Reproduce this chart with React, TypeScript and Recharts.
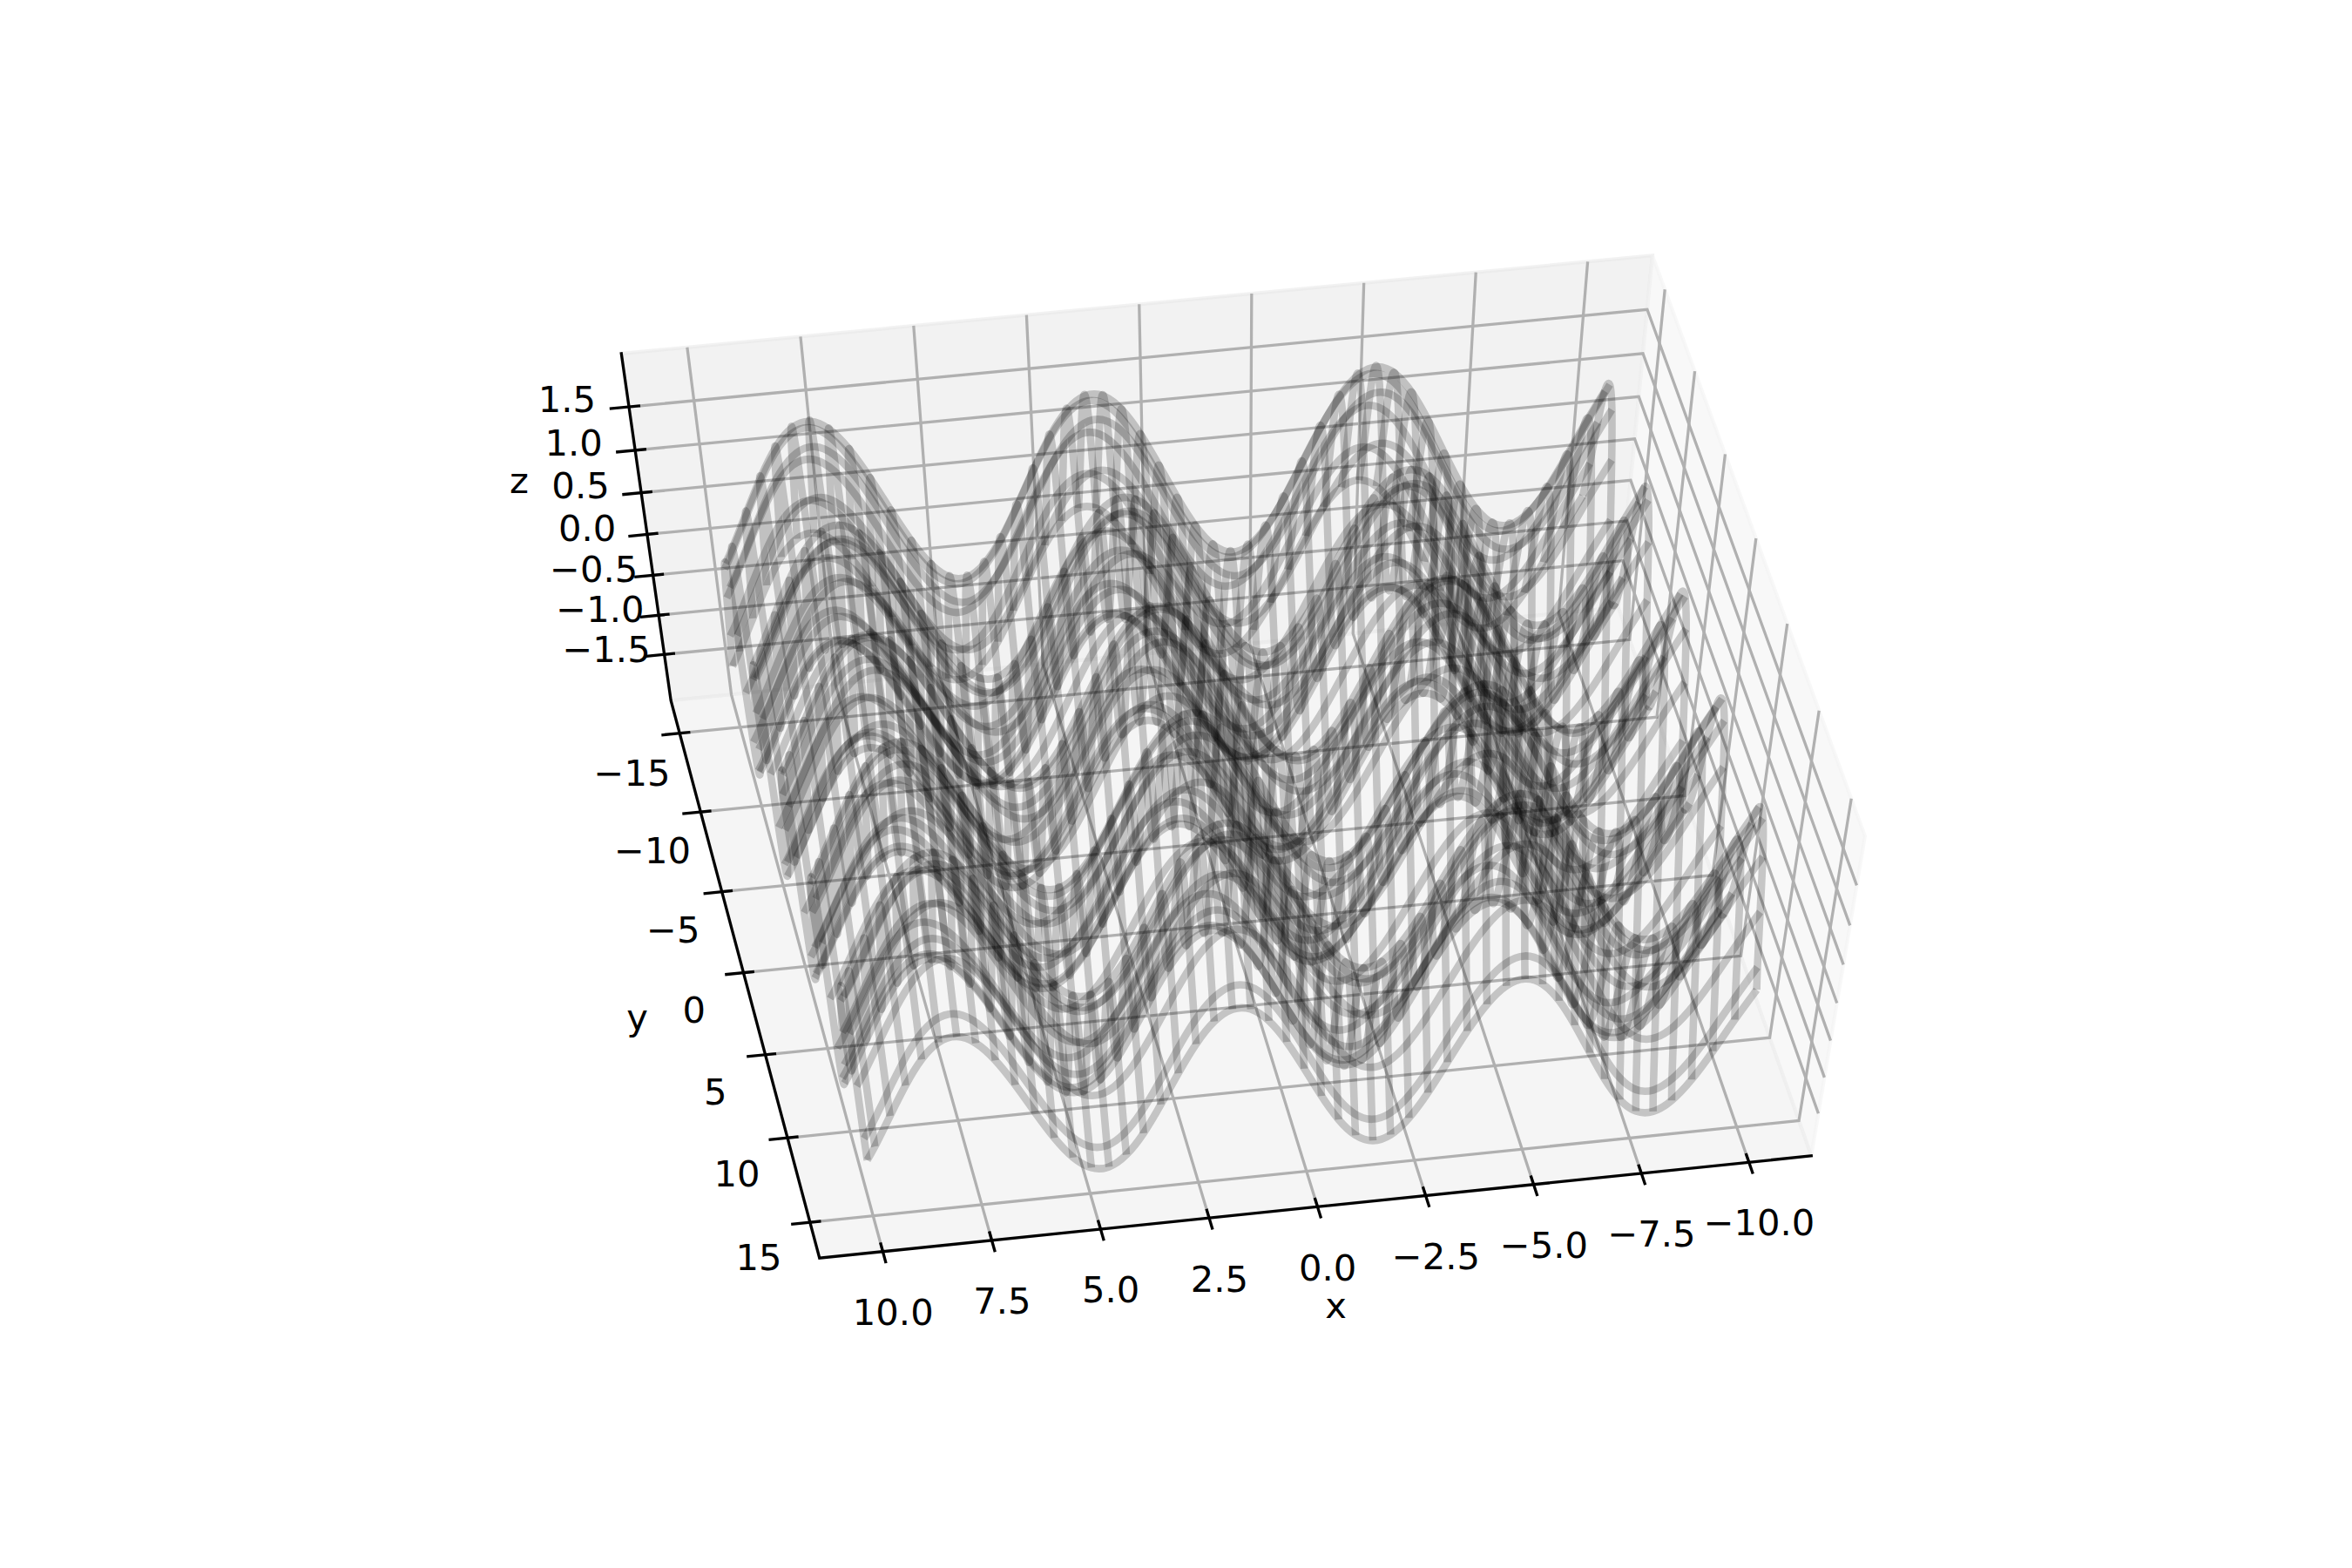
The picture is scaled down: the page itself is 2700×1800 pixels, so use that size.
import { ScatterChart, Scatter, XAxis, YAxis } from 'recharts';

const columnX = [
  -10, -9.596, -9.192, -8.788, -8.384, -7.98, -7.576, -7.172, -6.768, -6.364, -5.96, -5.556, -5.152,
  -4.747, -4.343, -3.939, -3.535, -3.131, -2.727, -2.323, -1.919, -1.515, -1.111, -0.707, -0.303,
  0.101, 0.505, 0.909, 1.313, 1.717, 2.121, 2.525, 2.929, 3.333, 3.737, 4.141, 4.545, 4.949, 5.354,
  5.758, 6.162, 6.566, 6.97, 7.374, 7.778, 8.182, 8.586, 8.99, 9.394, 9.798, 10,
];
const rowY = [
  -15, -14.394, -13.788, -13.182, -12.576, -11.97, -11.364, -10.758, -10.152, -9.545, -8.939, -8.333,
  -7.727, -7.121, -6.515, -5.909, -5.303, -4.697, -4.091, -3.485, -2.879, -2.273, -1.667, -1.061,
  -0.455, 0.152, 0.758, 1.364, 1.97, 2.576, 3.182, 3.788, 4.394, 5, 5.606, 6.212, 6.818, 7.424, 8.03,
  8.636, 9.242, 9.848, 10.455, 11.061, 11.667, 12.273, 12.879, 13.485, 14.091, 14.697, 15,
];

// Every row is the same wave shifted in z, so the height at a crossing is wave + shift
const waveZ = [
  0.544, 0.17, -0.231, -0.595, -0.863, -0.992, -0.962, -0.776, -0.465, -0.08, 0.317, 0.665, 0.905,
  0.999, 0.933, 0.716, 0.384, -0.01, -0.404, -0.73, -0.94, -0.998, -0.896, -0.65, -0.298,
  0.101, 0.484, 0.789, 0.967, 0.989, 0.853, 0.579, 0.211, -0.19, -0.562, -0.84, -0.986, -0.972, -0.801,
  -0.501, -0.121, 0.279, 0.634, 0.887, 0.997, 0.947, 0.745, 0.42, 0.031, -0.366, -0.544,
];
const rowShift = [
  -0.76, -0.254, 0.342, 0.816, 1, 0.828, 0.36, -0.235, -0.747, -0.993, -0.885, -0.461,
  0.126, 0.669, 0.973, 0.931, 0.557, -0.015, -0.582, -0.942, -0.966, -0.646, -0.096, 0.487,
  0.898, 0.988, 0.726, 0.205, -0.389, -0.845, -0.999, -0.799, -0.311, 0.284, 0.778, 0.997, 0.86, 0.422, -0.177,
  -0.708, -0.984, -0.912, -0.515, 0.065, 0.622, 0.957, 0.951, 0.607, 0.045, -0.531, -0.76,
];

const xTicks = [10, 7.5, 5, 2.5, 0, -2.5, -5, -7.5, -10];
const xTickLabels = ['10.0', '7.5', '5.0', '2.5', '0.0', '−2.5', '−5.0', '−7.5', '−10.0'];
const yTicks = [-15, -10, -5, 0, 5, 10, 15];
const yTickLabels = ['−15', '−10', '−5', '0', '5', '10', '15'];
const zTicks = [1.5, 1, 0.5, 0, -0.5, -1, -1.5];
const zTickLabels = ['1.5', '1.0', '0.5', '0.0', '−0.5', '−1.0', '−1.5'];

const X_LIM = 11.45;
const Y_LIM = 17.1;
const Z_LIM = 2.1;

// camera of the 3d box
const ELEV = (60 * Math.PI) / 180;
const AZIM = (80 * Math.PI) / 180;
const DIST = 10;
const WIDTH = 2700;
const HEIGHT = 1800;
const SCALE_X = 11785;
const SCALE_Y = 7655;
const CENTER_X = 1412;
const CENTER_Y = 877;

const w = [Math.cos(ELEV) * Math.cos(AZIM), Math.cos(ELEV) * Math.sin(AZIM), Math.sin(ELEV)];
const u = [-Math.sin(AZIM), Math.cos(AZIM), 0];
const v = [-Math.sin(ELEV) * Math.cos(AZIM), -Math.sin(ELEV) * Math.sin(AZIM), Math.cos(ELEV)];

function project(x: number, y: number, z: number) {
  const p = [x / (2 * X_LIM), y / (2 * Y_LIM), z / (2 * Z_LIM)];
  const dot = (a: number[]) => a[0] * p[0] + a[1] * p[1] + a[2] * p[2];
  const depth = DIST - dot(w);
  return { px: dot(u) / depth, py: dot(v) / depth };
}

const xDomain = [-CENTER_X / SCALE_X, (WIDTH - CENTER_X) / SCALE_X];
const yDomain = [-(HEIGHT - CENTER_Y) / SCALE_Y, CENTER_Y / SCALE_Y];

const wires = [
  ...rowY.map((y, j) => columnX.map((x, i) => project(x, y, waveZ[i] + rowShift[j]))),
  ...columnX.map((x, i) => rowY.map((y, j) => project(x, y, waveZ[i] + rowShift[j]))),
];

const panes = [
  {
    fill: '#e6e6e6',
    points: [[X_LIM, -Y_LIM, -Z_LIM], [-X_LIM, -Y_LIM, -Z_LIM], [-X_LIM, -Y_LIM, Z_LIM], [X_LIM, -Y_LIM, Z_LIM], [X_LIM, -Y_LIM, -Z_LIM]],
  },
  {
    fill: '#f2f2f2',
    points: [[-X_LIM, -Y_LIM, -Z_LIM], [-X_LIM, Y_LIM, -Z_LIM], [-X_LIM, Y_LIM, Z_LIM], [-X_LIM, -Y_LIM, Z_LIM], [-X_LIM, -Y_LIM, -Z_LIM]],
  },
  {
    fill: '#ececec',
    points: [[X_LIM, -Y_LIM, -Z_LIM], [-X_LIM, -Y_LIM, -Z_LIM], [-X_LIM, Y_LIM, -Z_LIM], [X_LIM, Y_LIM, -Z_LIM], [X_LIM, -Y_LIM, -Z_LIM]],
  },
];

const gridLines = [
  ...xTicks.map((x) => [project(x, Y_LIM, -Z_LIM), project(x, -Y_LIM, -Z_LIM), project(x, -Y_LIM, Z_LIM)]),
  ...yTicks.map((y) => [project(X_LIM, y, -Z_LIM), project(-X_LIM, y, -Z_LIM), project(-X_LIM, y, Z_LIM)]),
  ...zTicks.map((z) => [project(X_LIM, -Y_LIM, z), project(-X_LIM, -Y_LIM, z), project(-X_LIM, Y_LIM, z)]),
];

const axisLines = [
  [project(X_LIM, -Y_LIM, Z_LIM), project(X_LIM, -Y_LIM, -Z_LIM), project(X_LIM, Y_LIM, -Z_LIM), project(-X_LIM, Y_LIM, -Z_LIM)],
  ...xTicks.map((x) => [project(x, Y_LIM - 0.45, -Z_LIM), project(x, Y_LIM + 0.6, -Z_LIM)]),
  ...yTicks.map((y) => [project(X_LIM - 0.22, y, -Z_LIM), project(X_LIM + 0.4, y, -Z_LIM)]),
  ...zTicks.map((z) => [project(X_LIM - 0.22, -Y_LIM, z), project(X_LIM + 0.4, -Y_LIM, z)]),
];

const labels = [
  ...xTicks.map((x, i) => ({ ...project(x * 0.995 + 0.19, 20.62, -Z_LIM), text: xTickLabels[i] })),
  ...yTicks.map((y, i) => ({ ...project(12.8, y * 0.985 + 1.95, -Z_LIM), text: yTickLabels[i] })),
  ...zTicks.map((z, i) => ({ ...project(12.76, -17.74, z * 1.01 + 0.02), text: zTickLabels[i] })),
  { ...project(0.27, 22.8, -Z_LIM), text: 'x' },
  { ...project(14.13, 2, -Z_LIM), text: 'y' },
  { ...project(14, -21.4, -0.04), text: 'z' },
];

const NoDot = () => null;

const TickText = (props: any) => (
  <text
    x={props.cx}
    y={props.cy}
    textAnchor="middle"
    dominantBaseline="central"
    fontFamily="DejaVu Sans"
    fontSize={41.7}
    fill="#000"
  >
    {props.payload.text}
  </text>
);

export default function App() {
  return (
    <div style={{ position: 'absolute', left: 0, top: 0, width: WIDTH, height: HEIGHT, background: '#fff' }}>
      <ScatterChart width={WIDTH} height={HEIGHT} margin={{ top: 0, right: 0, bottom: 0, left: 0 }}>
        <XAxis type="number" dataKey="px" domain={xDomain} hide allowDataOverflow />
        <YAxis type="number" dataKey="py" domain={yDomain} hide allowDataOverflow />
        {panes.map((pane, i) => (
          <Scatter
            key={`pane-${i}`}
            data={pane.points.map(([x, y, z]) => project(x, y, z))}
            shape={NoDot}
            line={{ fill: pane.fill, fillOpacity: 0.5, stroke: pane.fill, strokeOpacity: 0.5, strokeWidth: 4 }}
            isAnimationActive={false}
          />
        ))}
        {gridLines.map((line, i) => (
          <Scatter
            key={`grid-${i}`}
            data={line}
            shape={NoDot}
            line={{ stroke: '#b0b0b0', strokeWidth: 3.3 }}
            isAnimationActive={false}
          />
        ))}
        {axisLines.map((line, i) => (
          <Scatter
            key={`axis-${i}`}
            data={line}
            shape={NoDot}
            line={{ stroke: '#000', strokeWidth: 3.3, strokeLinecap: 'square' }}
            isAnimationActive={false}
          />
        ))}
        {wires.map((line, i) => (
          <Scatter
            key={`wire-${i}`}
            data={line}
            shape={NoDot}
            line={{ stroke: '#000', strokeOpacity: 0.2, strokeWidth: 8.6, strokeLinejoin: 'round' }}
            lineJointType="natural"
            isAnimationActive={false}
          />
        ))}
        <Scatter data={labels} shape={TickText} isAnimationActive={false} />
      </ScatterChart>
    </div>
  );
}
